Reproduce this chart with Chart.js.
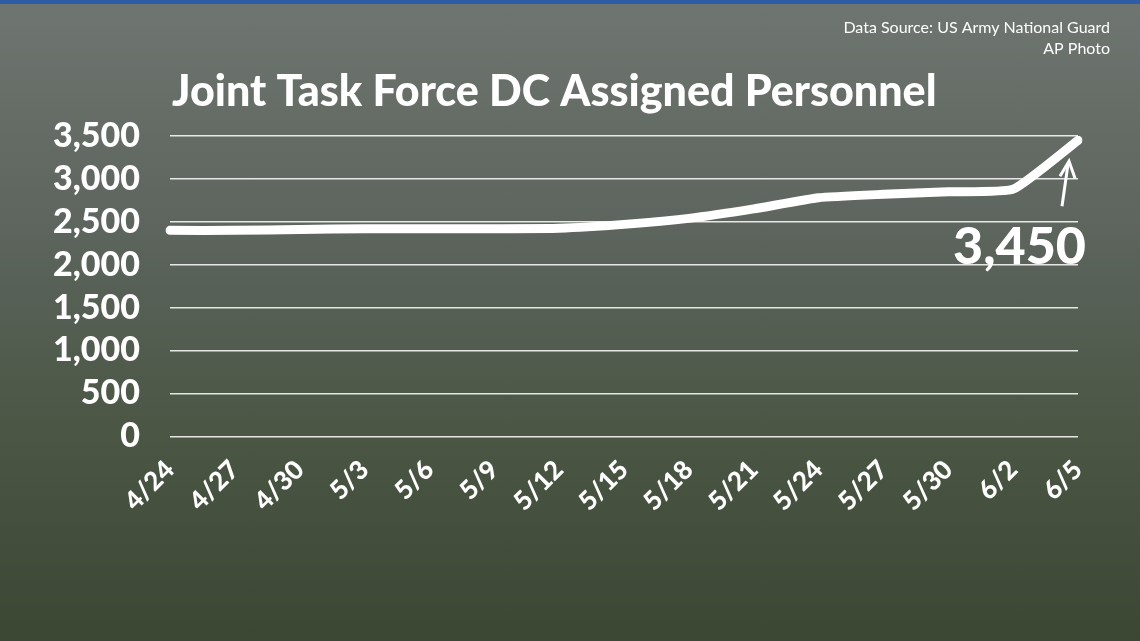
<!DOCTYPE html>
<html>
<head>
<meta charset="utf-8">
<script src="https://cdn.jsdelivr.net/npm/chart.js@4"></script>
<style>
  html, body { margin: 0; padding: 0; }
  body {
    width: 1140px; height: 641px; overflow: hidden;
    background: linear-gradient(180deg, #6f7570 0%, #5d655e 35%, #4c5746 65%, #3b4733 100%);
  }
  #wrap { position: relative; width: 1140px; height: 641px; border-top: 4px solid #2d5da8; box-sizing: border-box; }
  canvas { display: block; }
</style>
</head>
<body>
<div id="wrap"><canvas id="chart" width="1140" height="637"></canvas></div>
<script>
const dates = ['4/24', '4/27', '4/30', '5/3', '5/6', '5/9', '5/12', '5/15', '5/18', '5/21', '5/24', '5/27', '5/30', '6/2', '6/5'];
const personnel = [2400, 2400, 2410, 2420, 2420, 2420, 2425, 2470, 2540, 2650, 2780, 2820, 2850, 2880, 3450];
const yTicks = [0, 500, 1000, 1500, 2000, 2500, 3000, 3500];

const FONT = 'Lato, "Open Sans", sans-serif';

const overlay = {
    id: 'overlay',
    afterDraw(chart) {
        const { ctx } = chart;
        const x = chart.scales.x, y = chart.scales.y;
        ctx.save();
        ctx.fillStyle = '#fff';
        ctx.textBaseline = 'alphabetic';
        ctx.font = `900 43px ${FONT}`;
        ctx.textAlign = 'left';
        ctx.fillText('Joint Task Force DC Assigned Personnel', 172, 102);
        ctx.font = `16px ${FONT}`;
        ctx.textAlign = 'right';
        ctx.fillText('Data Source: US Army National Guard', 1110, 29);
        ctx.fillText('AP Photo', 1110, 50);

        // callout for last value
        const last = personnel.length - 1;
        const px = x.getPixelForValue(last);
        const py = y.getPixelForValue(personnel[last]);
        ctx.font = `900 52px ${FONT}`;
        ctx.fillText('3,450', px + 8, py + 124);
        ctx.strokeStyle = '#fff';
        ctx.lineWidth = 3;
        ctx.beginPath();
        ctx.moveTo(px - 16, py + 66);
        ctx.lineTo(px - 10, py + 24);
        ctx.stroke();
        ctx.beginPath();
        ctx.moveTo(px - 18, py + 36);
        ctx.lineTo(px - 9, py + 21);
        ctx.lineTo(px - 3, py + 38);
        ctx.stroke();
        ctx.restore();
    }
};

new Chart(document.getElementById('chart'), {
    type: 'line',
    data: {
        labels: dates,
        datasets: [{
            data: personnel,
            borderColor: '#ffffff',
            borderWidth: 9,
            pointRadius: 0,
            tension: 0.15,
            borderCapStyle: 'round',
            borderJoinStyle: 'round'
        }]
    },
    options: {
        responsive: false,
        animation: false,
        layout: { padding: { left: 23, right: 62, top: 132, bottom: 114 } },
        plugins: { legend: { display: false }, tooltip: { enabled: false } },
        scales: {
            x: {
                offset: false,
                grid: { display: false },
                border: { display: false },
                ticks: {
                    color: '#fff',
                    font: { family: FONT, size: 26, weight: '900' },
                    maxRotation: 45, minRotation: 45, autoSkip: false, padding: 10
                }
            },
            y: {
                min: 0, max: 3500,
                afterBuildTicks(axis) { axis.ticks = yTicks.map(v => ({ value: v })); },
                grid: { color: 'rgba(255,255,255,0.85)', lineWidth: 1.5, drawTicks: false },
                border: { display: false },
                ticks: {
                    color: '#fff',
                    autoSkip: false,
                    font: { family: FONT, size: 34, weight: '900' },
                    padding: 30,
                    callback: v => v.toLocaleString('en-US')
                }
            }
        }
    },
    plugins: [overlay]
});
</script>
</body>
</html>
